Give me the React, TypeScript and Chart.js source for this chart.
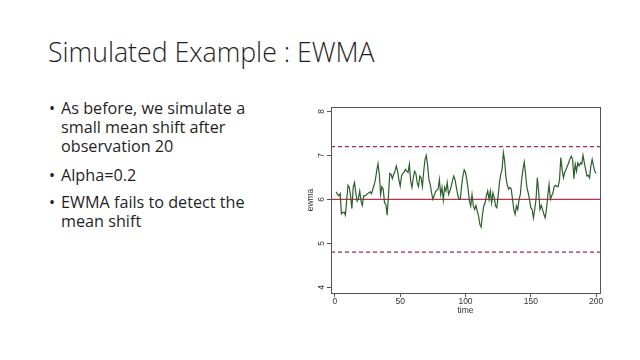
import React, { useEffect, useRef } from "react";
import { Chart, registerables } from "chart.js";

Chart.register(...registerables);

// ---- data ----
const ewmaValues: number[] = [
  6.17, 6.11, 6.08, 6.13, 5.67, 5.7, 5.71, 5.64, 5.98, 6.32,
  6.27, 6.08, 5.79, 6.27, 6.38, 6.15, 5.96, 6.02, 6.19, 5.96,
  5.86, 6.08, 6.08, 6.1, 6.13, 6.15, 6.17, 6.13, 6.23, 6.32,
  6.45, 6.64, 6.81, 6.57, 6.11, 6.29, 6.23, 5.92, 5.89, 5.64,
  6.08, 6.59, 6.57, 6.47, 6.57, 6.64, 6.76, 6.64, 6.45, 6.3,
  6.53, 6.59, 6.62, 6.68, 6.64, 6.61, 6.8, 6.42, 6.27, 6.49,
  6.64, 6.59, 6.38, 6.29, 6.53, 6.49, 6.29, 6.64, 6.91, 7.0,
  6.76, 6.45, 6.34, 6.15, 6.0, 6.08, 6.17, 6.21, 6.23, 6.45,
  6.11, 6.27, 5.98, 6.27, 6.19, 6.38, 6.11, 6.19, 6.29, 6.42,
  6.53, 6.45, 6.27, 6.11, 6.0, 6.0, 6.3, 6.53, 6.67, 6.61,
  6.45, 6.23, 5.96, 5.85, 6.11, 5.85, 5.77, 5.86, 5.73, 5.62,
  5.43, 5.37, 5.66, 5.85, 5.92, 6.08, 6.19, 6.0, 6.19, 5.92,
  6.15, 6.04, 5.85, 5.81, 6.08, 6.38, 6.57, 6.68, 7.06, 6.87,
  6.49, 6.32, 6.23, 6.27, 6.24, 6.0, 5.77, 5.66, 5.85, 5.77,
  6.0, 6.11, 6.45, 6.68, 6.85, 6.57, 6.27, 6.15, 6.0, 5.81,
  5.77, 5.58, 5.77, 6.0, 6.49, 6.19, 5.77, 5.86, 5.77, 5.66,
  5.58, 5.77, 6.08, 6.34, 6.0, 6.08, 6.15, 6.3, 6.32, 6.29,
  6.29, 6.45, 6.95, 6.68, 6.49, 6.61, 6.68, 6.76, 6.83, 6.92,
  6.98, 6.91, 6.47, 6.8, 6.64, 6.83, 6.76, 6.83, 6.8, 7.0,
  6.83, 6.68, 6.53, 6.55, 6.49, 6.76, 6.91, 6.76, 6.64, 6.59,
];
const timeValues: number[] = ewmaValues.map((_, i) => i + 1);
const centerLine = 6;
const upperLimit = 7.2;
const lowerLimit = 4.8;
const xTickValues = [0, 50, 100, 150, 200];
const yTickValues = [4, 5, 6, 7, 8];
const xMin = -3;
const xMax = 203;
const yMin = 3.87;
const yMax = 8.1;

const titleText = "Simulated Example : EWMA";
const bulletLines: string[][] = [
  ["As before, we simulate a", "small mean shift after", "observation 20"],
  ["Alpha=0.2"],
  ["EWMA fails to detect the", "mean shift"],
];
const bulletBaselines: number[][] = [[114, 133.4, 152.8], [181], [208.3, 227.6]];

const frameColor = "#555555";
const tickFont = { family: "'Liberation Sans', Arial, sans-serif", size: 8.5 };

const framePlugin = {
  id: "frameBox",
  afterDraw(chart: any) {
    const { ctx, chartArea } = chart;
    ctx.save();
    ctx.strokeStyle = frameColor;
    ctx.lineWidth = 1;
    ctx.strokeRect(
      Math.round(chartArea.left) + 0.5,
      Math.round(chartArea.top) + 0.5,
      Math.round(chartArea.right - chartArea.left),
      Math.round(chartArea.bottom - chartArea.top)
    );
    ctx.restore();
  },
};

function EwmaChart() {
  const ref = useRef<HTMLCanvasElement | null>(null);
  useEffect(() => {
    if (!ref.current) return;
    const chart = new Chart(ref.current, {
      type: "line",
      data: {
        datasets: [
          {
            label: "ewma",
            data: timeValues.map((t, i) => ({ x: t, y: ewmaValues[i] })),
            borderColor: "#2c5f2c",
            borderWidth: 1.2,
            pointRadius: 0,
            tension: 0,
          },
          {
            label: "center",
            data: [
              { x: xMin, y: centerLine },
              { x: xMax, y: centerLine },
            ],
            borderColor: "#c0304c",
            borderWidth: 1.2,
            pointRadius: 0,
          },
          {
            label: "upper",
            data: [
              { x: xMin, y: upperLimit },
              { x: xMax, y: upperLimit },
            ],
            borderColor: "#a02c48",
            borderWidth: 1.2,
            borderDash: [4, 3],
            pointRadius: 0,
          },
          {
            label: "lower",
            data: [
              { x: xMin, y: lowerLimit },
              { x: xMax, y: lowerLimit },
            ],
            borderColor: "#a02c48",
            borderWidth: 1.2,
            borderDash: [4, 3],
            pointRadius: 0,
          },
        ],
      },
      options: {
        animation: false,
        responsive: false,
        maintainAspectRatio: false,
        layout: { padding: { left: 0, right: 10, top: 12, bottom: 0 } },
        plugins: { legend: { display: false }, tooltip: { enabled: false } },
        scales: {
          x: {
            type: "linear",
            min: xMin,
            max: xMax,
            afterBuildTicks: (scale: any) => {
              scale.ticks = xTickValues.map((v) => ({ value: v }));
            },
            afterFit: (scale: any) => {
              scale.height = 27;
            },
            border: { display: false },
            grid: {
              display: true,
              drawOnChartArea: false,
              drawTicks: true,
              tickLength: 4,
              color: frameColor,
            },
            ticks: {
              color: "#333333",
              font: tickFont,
              padding: 0,
              maxRotation: 0,
              autoSkip: false,
            },
            title: {
              display: true,
              text: "time",
              color: "#333333",
              font: tickFont,
              padding: { top: 0, bottom: 4 },
            },
          },
          y: {
            type: "linear",
            min: yMin,
            max: yMax,
            afterBuildTicks: (scale: any) => {
              scale.ticks = yTickValues.map((v) => ({ value: v }));
            },
            afterFit: (scale: any) => {
              scale.width = 31;
            },
            border: { display: false },
            grid: {
              display: true,
              drawOnChartArea: false,
              drawTicks: true,
              tickLength: 4,
              color: frameColor,
            },
            ticks: {
              color: "#333333",
              font: tickFont,
              padding: 3,
              minRotation: 90,
              maxRotation: 90,
              crossAlign: "center",
              autoSkip: false,
            },
            title: {
              display: true,
              text: "ewma",
              color: "#333333",
              font: tickFont,
              padding: { top: 6, bottom: 0 },
            },
          },
        },
      },
      plugins: [framePlugin],
    } as any);
    return () => chart.destroy();
  }, []);
  return (
    <canvas
      ref={ref}
      width={310}
      height={225}
      style={{ position: "absolute", left: 300, top: 95, width: 310, height: 225 }}
    />
  );
}

const bodyFont = "'Open Sans', 'Noto Sans', sans-serif";
const bodySize = 16.2;
const titleSize = 26.7;

export default function App() {
  const lineDivs: React.ReactNode[] = [];
  bulletLines.forEach((lines, bi) => {
    lines.forEach((line, li) => {
      const baseline = bulletBaselines[bi][li];
      const top = baseline - 0.888 * bodySize;
      if (li === 0) {
        lineDivs.push(
          <div
            key={`b${bi}`}
            style={{
              position: "absolute",
              left: 49,
              top,
              fontFamily: bodyFont,
              fontSize: bodySize,
              lineHeight: `${bodySize}px`,
              color: "#1f1f1f",
            }}
          >
            •
          </div>
        );
      }
      lineDivs.push(
        <div
          key={`l${bi}-${li}`}
          style={{
            position: "absolute",
            left: 61,
            top,
            fontFamily: bodyFont,
            fontSize: bodySize,
            lineHeight: `${bodySize}px`,
            color: "#1f1f1f",
            whiteSpace: "nowrap",
          }}
        >
          {line}
        </div>
      );
    });
  });
  return (
    <div
      style={{
        position: "fixed",
        left: 0,
        top: 0,
        width: 640,
        height: 360,
        background: "#ffffff",
        overflow: "hidden",
      }}
    >
      <div
        style={{
          position: "absolute",
          left: 48,
          top: 62.7 - 0.888 * titleSize,
          fontFamily: bodyFont,
          fontWeight: 300,
          fontSize: titleSize,
          lineHeight: `${titleSize}px`,
          color: "#1f1f1f",
          whiteSpace: "nowrap",
        }}
      >
        {titleText}
      </div>
      {lineDivs}
      <EwmaChart />
    </div>
  );
}
